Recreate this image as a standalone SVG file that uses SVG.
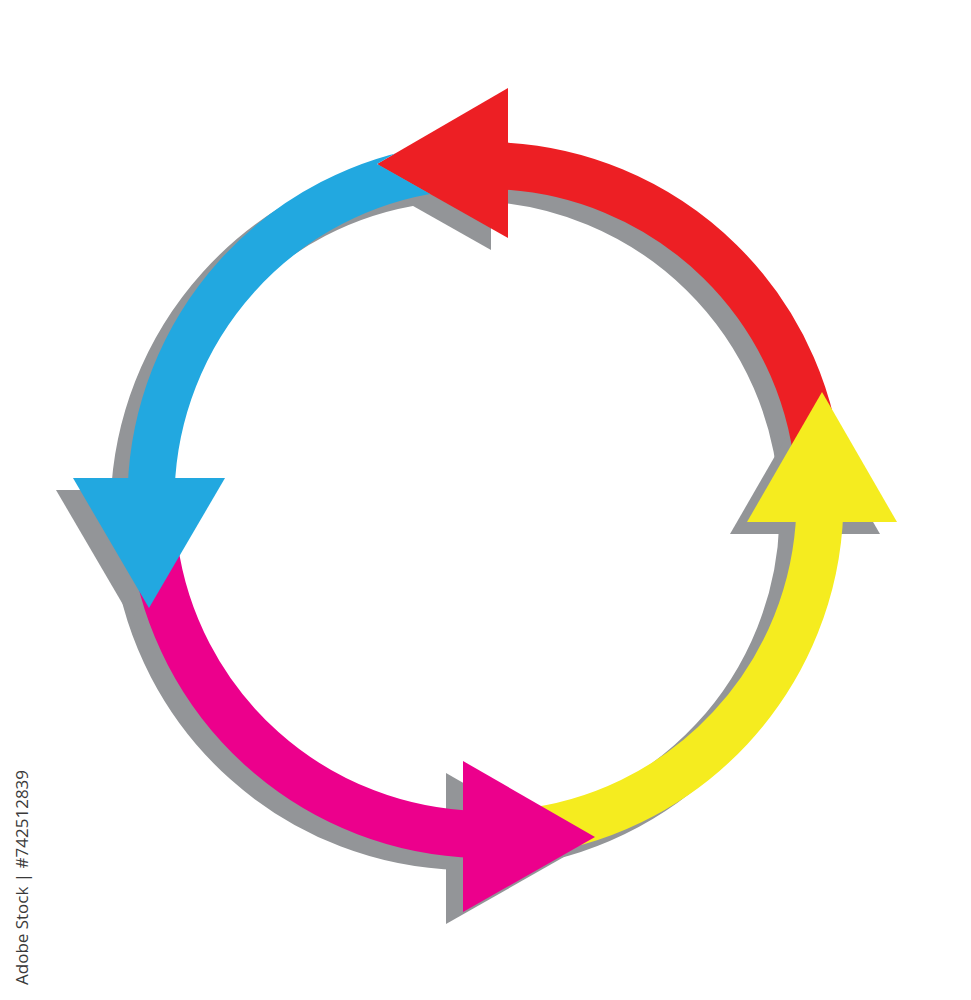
<svg xmlns="http://www.w3.org/2000/svg" xmlns:xlink="http://www.w3.org/1999/xlink" width="971" height="1000" viewBox="0 0 971 1000">
  <style>
    .band { fill: none; stroke-width: 47; stroke-linecap: butt; }
    .shadow .band { stroke: #939598; }
    .shadow .head { fill: #939598; }
    .credit { font-family: "Open Sans", "Liberation Sans", sans-serif; font-size: 17px; fill: #3a3a3a; }
  </style>
  <defs>
    <path id="band-red" d="M 497.2 165.7 A 334.5 334.5 0 0 1 819.5 482.5"/>
    <path id="band-yellow" d="M 520.5 832.7 A 334.5 334.5 0 0 0 819.8 511.7"/>
    <path id="band-magenta" d="M 154.3 546.6 A 334.5 334.5 0 0 0 476.7 834.4"/>
    <path id="band-blue" d="M 438.95 168.75 A 334.5 334.5 0 0 0 151.2 488.3"/>
    <polygon id="head-red" points="508,88 508,238 377,164"/>
    <polygon id="head-yellow" points="822,392 897,522 747,522"/>
    <polygon id="head-magenta" points="463,761 463,912 595,837"/>
    <polygon id="head-blue" points="73,478 225,478 149,608"/>
    <mask id="under-red" maskUnits="userSpaceOnUse" x="0" y="0" width="971" height="1000">
      <rect x="0" y="0" width="971" height="1000" fill="#fff"/>
      <use xlink:href="#head-red" fill="#000"/>
    </mask>
  </defs>
  <rect x="0" y="0" width="971" height="1000" fill="#ffffff"/>

  <g id="shadow" class="shadow" transform="translate(-17,12)">
    <use xlink:href="#band-red" class="band"/>
    <use xlink:href="#band-yellow" class="band"/>
    <use xlink:href="#band-magenta" class="band"/>
    <use xlink:href="#band-blue" class="band"/>
    <use xlink:href="#head-red" class="head"/>
    <use xlink:href="#head-yellow" class="head"/>
    <use xlink:href="#head-magenta" class="head"/>
    <use xlink:href="#head-blue" class="head"/>
  </g>

  <g id="connectors">
    <g id="arrow-red">
      <use xlink:href="#band-red" class="band" stroke="#ED1F24"/>
      <use xlink:href="#head-red" fill="#ED1F24"/>
    </g>
    <g id="arrow-yellow">
      <use xlink:href="#band-yellow" class="band" stroke="#F5EC1F"/>
      <use xlink:href="#head-yellow" fill="#F5EC1F"/>
    </g>
    <g id="arrow-magenta">
      <use xlink:href="#band-magenta" class="band" stroke="#EC008C"/>
      <use xlink:href="#head-magenta" fill="#EC008C"/>
    </g>
    <g id="arrow-blue">
      <use xlink:href="#band-blue" class="band" stroke="#22A8E0" mask="url(#under-red)"/>
      <use xlink:href="#head-blue" fill="#22A8E0"/>
    </g>
  </g>

  <g id="credit">
    <text class="credit" x="28" y="985" transform="rotate(-90 28 985)">Adobe Stock | #742512839</text>
  </g>
</svg>
